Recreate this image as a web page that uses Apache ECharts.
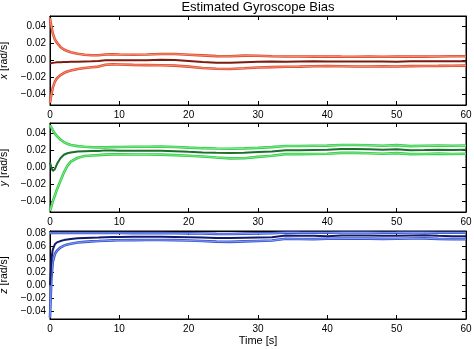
<!DOCTYPE html>
<html>
<head>
<meta charset="utf-8">
<script src="https://cdn.jsdelivr.net/npm/echarts@6/dist/echarts.min.js"></script>
<style>
html,body{margin:0;padding:0;background:#fff;}
#chart{width:474px;height:349px;}
</style>
</head>
<body>
<div id="chart"></div>
<script>
// ---- data (time in s, bias in rad/s) ----
var time = [0, 0.2, 0.4, 0.7, 1, 1.5, 2, 2.5, 3, 4, 5, 6, 7, 8, 9, 10, 12, 14, 16, 18, 20, 22, 24, 26, 28, 30, 32, 34, 36, 38, 40, 42, 44, 46, 48, 50, 52, 54, 56, 58, 60];

var xUpper = [0.050, 0.040, 0.032, 0.025, 0.021, 0.016, 0.013, 0.0112, 0.0098, 0.0080, 0.0068, 0.0062, 0.0062, 0.0070, 0.0072, 0.0070, 0.0068, 0.0070, 0.0076, 0.0076, 0.0068, 0.0060, 0.0052, 0.0050, 0.0058, 0.0056, 0.0050, 0.0048, 0.0047, 0.0046, 0.0048, 0.0046, 0.0045, 0.0046, 0.0044, 0.0046, 0.0047, 0.0046, 0.0048, 0.0050, 0.0050];
var xMean = [-0.0035, -0.0030, -0.0028, -0.0025, -0.0022, -0.0020, -0.0018, -0.0017, -0.0016, -0.0014, -0.0012, -0.0010, -0.0006, 0.0003, 0.0004, 0.0003, 0.0002, 0.0003, 0.0008, 0.0006, -0.0005, -0.0018, -0.0026, -0.0028, -0.0020, -0.0014, -0.0013, -0.0014, -0.0012, -0.0010, -0.0012, -0.0011, -0.0012, -0.0013, -0.0012, -0.0014, -0.0010, -0.0010, -0.0009, -0.0010, -0.0008];
var xLower = [-0.050, -0.040, -0.032, -0.025, -0.021, -0.0172, -0.0148, -0.0130, -0.0118, -0.0100, -0.0088, -0.0080, -0.0072, -0.0050, -0.0046, -0.0048, -0.0052, -0.0054, -0.0056, -0.0060, -0.0072, -0.0088, -0.0098, -0.0100, -0.0092, -0.0082, -0.0078, -0.0074, -0.0072, -0.0068, -0.0066, -0.0068, -0.0070, -0.0070, -0.0069, -0.0070, -0.0066, -0.0065, -0.0064, -0.0062, -0.0060];

var yUpper = [0.050, 0.047, 0.044, 0.040, 0.037, 0.033, 0.030, 0.028, 0.0265, 0.0252, 0.0245, 0.0240, 0.0238, 0.0238, 0.0240, 0.0242, 0.0245, 0.0245, 0.0246, 0.0242, 0.0234, 0.0228, 0.0224, 0.0222, 0.0226, 0.0232, 0.0240, 0.0254, 0.0254, 0.0256, 0.0258, 0.0266, 0.0266, 0.0262, 0.0256, 0.0264, 0.0252, 0.0256, 0.0260, 0.0256, 0.0260];
var yMean = [0.006, 0.000, -0.004, -0.002, 0.004, 0.011, 0.0150, 0.0168, 0.0178, 0.0188, 0.0192, 0.0194, 0.0195, 0.0202, 0.0200, 0.0198, 0.0197, 0.0198, 0.0198, 0.0193, 0.0185, 0.0178, 0.0174, 0.0172, 0.0174, 0.0182, 0.0190, 0.0204, 0.0204, 0.0206, 0.0208, 0.0218, 0.0218, 0.0214, 0.0208, 0.0216, 0.0204, 0.0206, 0.0210, 0.0206, 0.0208];
var yLower = [-0.051, -0.046, -0.040, -0.033, -0.026, -0.016, -0.006, 0.002, 0.007, 0.0115, 0.0135, 0.0142, 0.0146, 0.0152, 0.0155, 0.0155, 0.0153, 0.0153, 0.0152, 0.0146, 0.0138, 0.0130, 0.0118, 0.0108, 0.0110, 0.0125, 0.0138, 0.0158, 0.0158, 0.0160, 0.0162, 0.0172, 0.0172, 0.0168, 0.0162, 0.0170, 0.0158, 0.0160, 0.0164, 0.0160, 0.0162];

var zUpper = [0.0805, 0.0805, 0.0805, 0.0805, 0.0805, 0.0805, 0.0805, 0.0805, 0.0805, 0.0805, 0.0805, 0.0804, 0.0804, 0.0805, 0.0805, 0.0804, 0.0803, 0.0803, 0.0802, 0.0801, 0.0799, 0.0796, 0.0790, 0.0788, 0.0795, 0.0798, 0.0800, 0.0812, 0.0810, 0.0809, 0.0808, 0.0811, 0.0812, 0.0811, 0.0809, 0.0810, 0.0812, 0.0812, 0.0809, 0.0808, 0.0808];
var zMean = [0.000, 0.040, 0.055, 0.063, 0.066, 0.068, 0.0695, 0.0705, 0.0712, 0.0722, 0.0728, 0.0732, 0.0735, 0.0740, 0.0742, 0.0744, 0.0745, 0.0746, 0.0746, 0.0744, 0.0740, 0.0734, 0.0728, 0.0726, 0.0732, 0.0736, 0.0740, 0.0765, 0.0762, 0.0760, 0.0756, 0.0764, 0.0766, 0.0764, 0.0760, 0.0762, 0.0766, 0.0768, 0.0760, 0.0756, 0.0756];
var zLower = [-0.050, 0.010, 0.036, 0.048, 0.053, 0.058, 0.061, 0.0628, 0.0640, 0.0658, 0.0668, 0.0675, 0.0680, 0.0686, 0.0690, 0.0692, 0.0694, 0.0696, 0.0696, 0.0694, 0.0688, 0.0680, 0.0672, 0.0668, 0.0676, 0.0682, 0.0688, 0.0715, 0.0712, 0.0710, 0.0716, 0.0718, 0.0720, 0.0718, 0.0714, 0.0716, 0.0720, 0.0722, 0.0714, 0.0710, 0.0710];

var xTicks = [0, 10, 20, 30, 40, 50, 60];
var yTicksXY = [-0.04, -0.02, 0, 0.02, 0.04];
var yTicksZ = [-0.04, -0.02, 0, 0.02, 0.04, 0.06, 0.08];

var titleText = 'Estimated Gyroscope Bias';
var axisNames = ['x', 'y', 'z'];
var timeLabel = 'Time [s]';

// ---- chart ----
var FONT = 'Liberation Sans, Arial, sans-serif';
function pair(a) { return time.map(function (t, i) { return [t, a[i]]; }); }
function fmt(v) { var s = Math.abs(v).toFixed(2); return (v < -1e-9 ? '\u2212' : '') + s; }

var panels = [
  { up: xUpper, mid: xMean, lo: xLower, ticks: yTicksXY, min: -0.0525, max: 0.0525, top: 16, h: 89, light: '#e4492b', tint: '#f3a590', dark: '#7c1c0e' },
  { up: yUpper, mid: yMean, lo: yLower, ticks: yTicksXY, min: -0.0525, max: 0.0525, top: 123, h: 89, light: '#2fcf45', tint: '#9fe9a8', dark: '#1c6e2b' },
  { up: zUpper, mid: zMean, lo: zLower, ticks: yTicksZ, min: -0.052, max: 0.0835, top: 231, h: 88, light: '#3452d6', tint: '#9eb0ee', dark: '#101a6c' }
];

var grids = [], xAxes = [], yAxes = [], series = [];
panels.forEach(function (p, k) {
  grids.push({ left: 50, right: 8, top: p.top, height: p.h, show: true, borderColor: '#000', borderWidth: 1, backgroundColor: '#fff', outerBoundsMode: 'none', containLabel: false });
  xAxes.push({
    type: 'value', gridIndex: k, min: 0, max: 60, interval: 10, position: 'bottom',
    name: k === 2 ? timeLabel : '', nameLocation: 'middle', nameGap: 16,
    nameTextStyle: { fontFamily: FONT, fontSize: 11, color: '#000' },
    axisLine: { show: true, onZero: false, lineStyle: { color: '#000', width: 1 } },
    axisTick: { show: true, inside: true, length: 4, lineStyle: { color: '#000' } },
    axisLabel: { show: true, margin: 5, fontFamily: FONT, fontSize: 10, color: '#000', showMaxLabel: true, showMinLabel: true },
    splitLine: { show: false }
  });
  xAxes.push({
    type: 'value', gridIndex: k, min: 0, max: 60, interval: 10, position: 'top',
    axisLine: { show: true, onZero: false, lineStyle: { color: '#000', width: 1 } },
    axisTick: { show: true, inside: true, length: 4, lineStyle: { color: '#000' } },
    axisLabel: { show: false }, splitLine: { show: false }
  });
  yAxes.push({
    type: 'value', gridIndex: k, min: p.min, max: p.max, position: 'left',
    name: '{i|' + axisNames[k] + '} [rad/s]', nameLocation: 'middle', nameGap: 35, nameRotate: 90,
    nameTextStyle: { fontFamily: FONT, fontSize: 10.5, color: '#000', rich: { i: { fontFamily: FONT, fontSize: 10.5, fontStyle: 'italic', color: '#000' } } },
    axisLine: { show: true, onZero: false, lineStyle: { color: '#000', width: 1 } },
    axisTick: { show: true, inside: true, length: 4, customValues: p.ticks, lineStyle: { color: '#000' } },
    axisLabel: { show: true, margin: 4, fontFamily: FONT, fontSize: 10, color: '#000', customValues: p.ticks, formatter: fmt },
    splitLine: { show: false }
  });
  yAxes.push({
    type: 'value', gridIndex: k, min: p.min, max: p.max, position: 'right',
    axisLine: { show: true, onZero: false, lineStyle: { color: '#000', width: 1 } },
    axisTick: { show: true, inside: true, length: 4, customValues: p.ticks, lineStyle: { color: '#000' } },
    axisLabel: { show: false, customValues: p.ticks }, splitLine: { show: false }
  });
  var xi = 2 * k, yi = 2 * k;
  [p.up, p.lo].forEach(function (arr) {
    series.push({ type: 'line', xAxisIndex: xi, yAxisIndex: yi, data: pair(arr), showSymbol: false, symbol: 'none', silent: true,
      lineStyle: { color: p.light, width: 2.6 }, z: 2 });
    series.push({ type: 'line', xAxisIndex: xi, yAxisIndex: yi, data: pair(arr), showSymbol: false, symbol: 'none', silent: true,
      lineStyle: { color: p.tint, width: 0.8 }, z: 2 });
  });
  series.push({ type: 'line', xAxisIndex: xi, yAxisIndex: yi, data: pair(p.mid), showSymbol: false, symbol: 'none', silent: true,
    lineStyle: { color: p.dark, width: 2 }, z: 3 });
});

var chart = echarts.init(document.getElementById('chart'), null, { renderer: 'canvas' });
chart.setOption({
  animation: false,
  backgroundColor: '#fff',
  title: { text: titleText, left: 258, textAlign: 'center', top: 1, padding: 0, textStyle: { fontFamily: FONT, fontSize: 13, fontWeight: 'normal', color: '#000' } },
  grid: grids,
  xAxis: xAxes,
  yAxis: yAxes,
  series: series
});
</script>
</body>
</html>
